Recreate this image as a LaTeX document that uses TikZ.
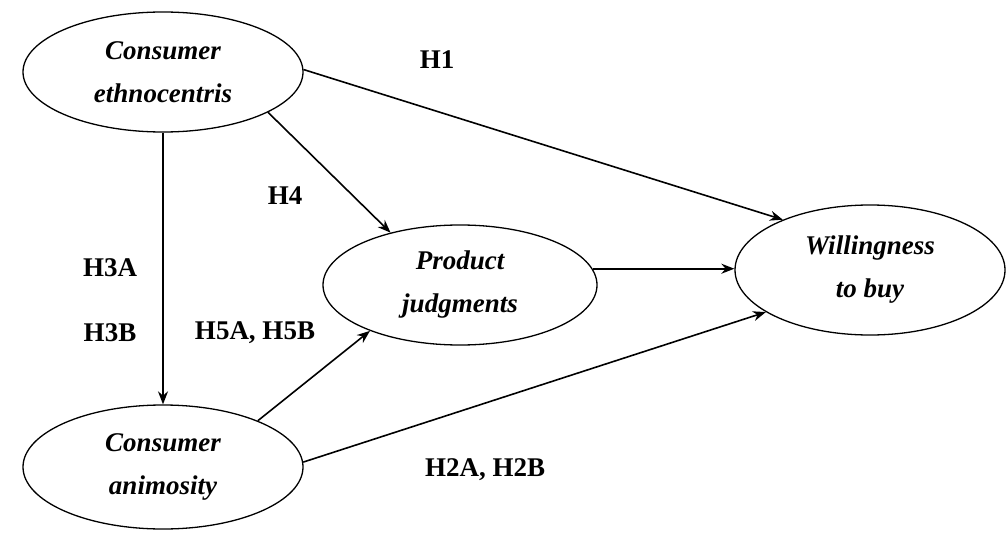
\documentclass[tikz,border=0pt]{standalone}
\usepackage{fontspec}
\setmainfont{Liberation Serif}
\usetikzlibrary{shapes.geometric,arrows.meta}
\begin{document}
\begin{tikzpicture}[x=1pt,y=-1pt,
  el/.style={ellipse,draw,line width=1.3pt,inner sep=0pt,align=center,font=\fontsize{27}{43}\selectfont\bfseries\itshape},
  lab/.style={font=\fontsize{27}{30}\selectfont\bfseries,inner sep=0pt},
  ar/.style={line width=1.6pt,-{Stealth[length=13pt,width=10pt]}}]
\useasboundingbox (0,0) rectangle (1008,548);
\node[el,minimum width=280pt,minimum height=120pt] (ce) at (163,72) {Consumer\\ethnocentris};
\node[el,minimum width=280pt,minimum height=124pt] (ca) at (163,467) {Consumer\\animosity};
\node[el,minimum width=274pt,minimum height=120pt] (pj) at (460,285) {Product\\judgments};
\node[el,minimum width=270pt,minimum height=130pt] (wb) at (870,270) {Willingness\\to buy};
\draw[ar] (ce.1) -- (wb.150);
\draw[ar] (ce.-21) -- (pj.143);
\draw[ar] (ce.-90.5) -- (ca.90.5);
\draw[ar] (pj.7) -- (pj.7 -| wb.west);
\draw[ar] (ca.26) -- (pj.-153);
\draw[ar] (ca.2) -- (wb.-158);
\node[lab] (h1) at (437,60) {H1};
\node[lab] (h4) at (285,196) {H4};
\node[lab] (h3a) at (110,268) {H3A};
\node[lab] (h3b) at (110,333) {H3B};
\node[lab] (h5) at (255,333) {H5A, H5B};
\node[lab] (h2) at (485,470) {H2A, H2B};
\end{tikzpicture}
\end{document}
